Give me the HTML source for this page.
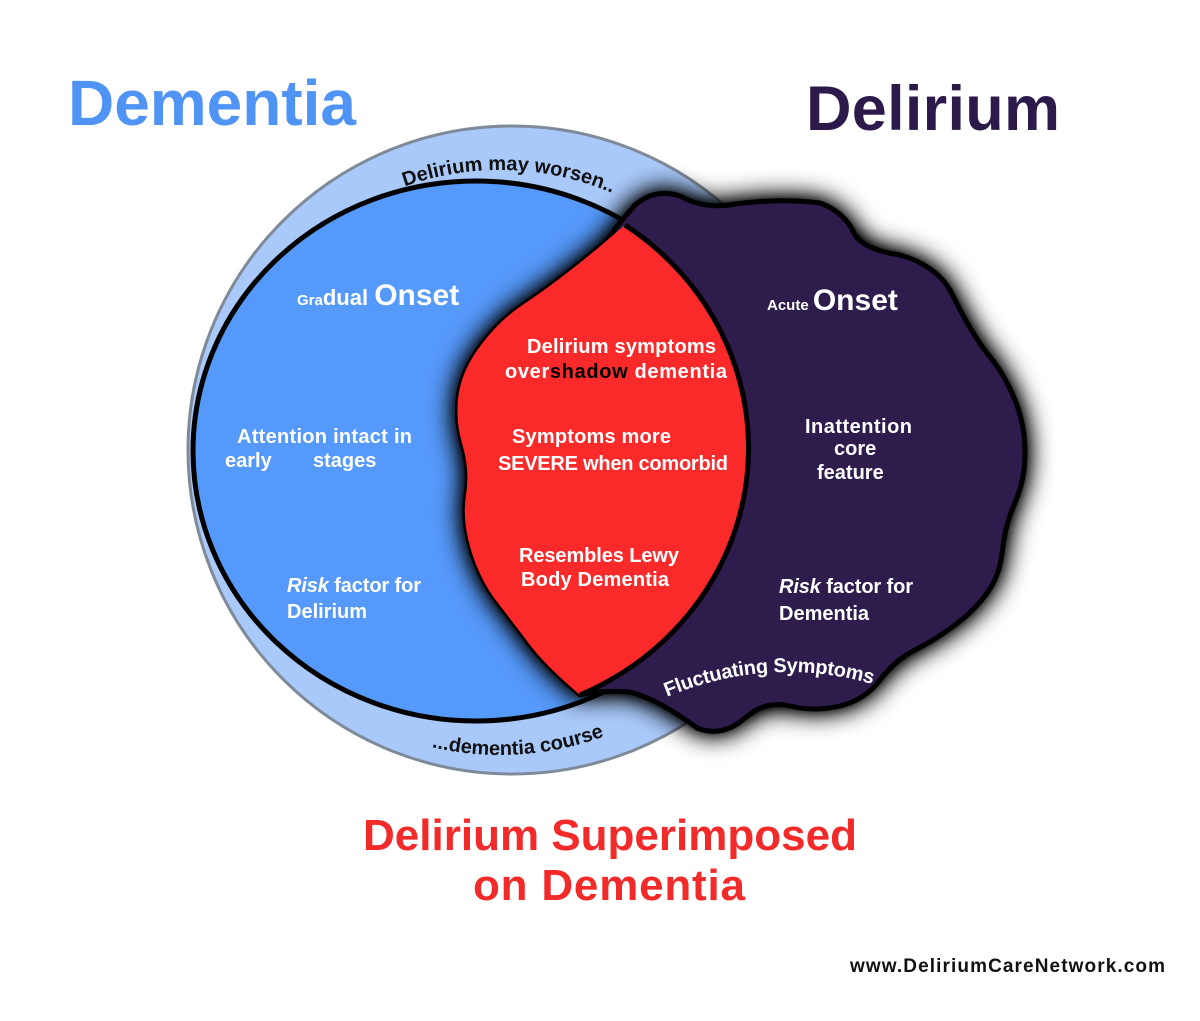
<!DOCTYPE html>
<html><head><meta charset="utf-8"><style>
html,body{margin:0;padding:0;background:#fff}
svg{display:block}
text{font-family:"Liberation Sans",sans-serif;font-weight:bold}
</style></head><body>
<svg width="1200" height="1021" viewBox="0 0 1200 1021" xmlns="http://www.w3.org/2000/svg">
<defs>
<filter id="sh" x="-20%" y="-20%" width="140%" height="140%">
<feGaussianBlur in="SourceAlpha" stdDeviation="13"/>
<feComponentTransfer><feFuncA type="linear" slope="1.6"/></feComponentTransfer>
<feMerge><feMergeNode/><feMergeNode in="SourceGraphic"/></feMerge>
</filter>
<path id="topArc" d="M215,455 A285,285 0 0 1 785,455"/>
<path id="botArc" d="M200,455 A300,300 0 0 0 800,455"/>
<path id="flArc" d="M655,702 Q770,650 885,688"/>
</defs>
<rect width="1200" height="1021" fill="#fff"/>
<text x="68" y="125" font-size="64" fill="#4f93f4" textLength="288">Dementia</text>
<text x="806" y="130" font-size="63" fill="#2b1a4a" textLength="254">Delirium</text>

<circle cx="512" cy="450" r="324" fill="#a9c9fb" stroke="#7f8a99" stroke-width="3"/>
<ellipse cx="476" cy="451" rx="283" ry="270" fill="#5599fa" stroke="#000" stroke-width="5"/>

<path filter="url(#sh)" fill="#2e1a4e" stroke="#000" stroke-width="5" stroke-linejoin="round" d="M618,225 L635,205 Q655,188 680,196 Q705,210 735,204 Q780,198 820,203 Q845,212 855,235 Q865,250 900,255 Q935,265 950,290 Q972,335 988.5,355 Q1005,375 1015,400 Q1025,425 1025,452.5 Q1025,480 1015,502.5 Q1005,525 1002.5,550 Q1000,575 987.5,592.5 Q975,610 955,625 Q935,640 915,650 Q895,660 880,680 Q865,700 840,706 Q815,712 790,706 Q765,700 745,718 Q722,738 697,728 Q660,700 630,692 Q600,690 580,695 Q545,665 530,645 Q515,625 497.5,602.5 Q480,580 471,550 Q462,520 466,495 Q470,470 462.5,445 Q455,420 458.5,395 Q462,370 481,345 Q500,320 522.5,305 Q545,290 567.5,272.5 Q590,255 607.5,240 L618,225 Z"/>
<path fill="#fb2a2a" d="M625,225 L607.5,240 Q590,255 567.5,272.5 Q545,290 522.5,305 Q500,320 481,345 Q462,370 458.5,395 Q455,420 462.5,445 Q470,470 466,495 Q462,520 471,550 Q480,580 497.5,602.5 Q515,625 530,645 Q545,665 580,695 A283,270 0 0 0 625,225 Z"/>
<path fill="none" stroke="#000" stroke-width="5" d="M580,695 A283,270 0 0 0 625,225"/>

<text font-size="20" fill="#111"><textPath href="#topArc" startOffset="51%" text-anchor="middle">Delirium may worsen..</textPath></text>
<text font-size="20" fill="#111"><textPath href="#botArc" startOffset="52%" text-anchor="middle">...dementia course</textPath></text>
<text font-size="20" fill="#fff"><textPath href="#flArc" startOffset="50%" text-anchor="middle" textLength="210">Fluctuating Symptoms</textPath></text>

<g fill="#fff" font-size="20">
<text x="297" y="305"><tspan font-size="15">Gra</tspan><tspan font-size="22">dual </tspan><tspan font-size="30">Onset</tspan></text>
<text x="767" y="310"><tspan font-size="15">Acute </tspan><tspan font-size="30">Onset</tspan></text>
<text x="527" y="353" textLength="189">Delirium symptoms</text>
<text x="505" y="378" textLength="222">over<tspan fill="#000">shadow</tspan>  dementia</text>
<text x="512" y="443" textLength="159">Symptoms more</text>
<text x="498" y="470" textLength="230">SEVERE when comorbid</text>
<text x="519" y="562" textLength="160">Resembles Lewy</text>
<text x="521" y="586" textLength="148">Body Dementia</text>
<text x="237" y="443" textLength="175">Attention intact in</text>
<text x="225" y="467">early</text>
<text x="313" y="467">stages</text>
<text x="287" y="592" textLength="134"><tspan font-style="italic">Risk</tspan> factor for</text>
<text x="287" y="618">Delirium</text>
<text x="805" y="433" textLength="107">Inattention</text>
<text x="834" y="455">core</text>
<text x="817" y="479">feature</text>
<text x="779" y="593" textLength="134"><tspan font-style="italic">Risk</tspan> factor for</text>
<text x="779" y="620">Dementia</text>
</g>

<text x="363" y="850" font-size="44" fill="#f22a2a" textLength="494">Delirium Superimposed</text>
<text x="473" y="900" font-size="44" fill="#f22a2a" textLength="272">on Dementia</text>
<text x="850" y="972" font-size="19" fill="#111" textLength="315">www.DeliriumCareNetwork.com</text>
</svg>
</body></html>
